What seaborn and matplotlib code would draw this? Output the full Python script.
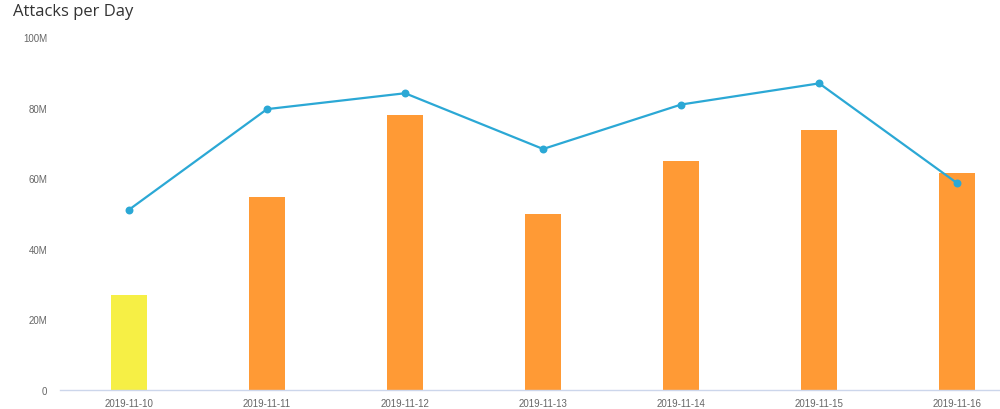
import matplotlib
matplotlib.use("Agg")
import matplotlib.pyplot as plt
import seaborn as sns
import pandas as pd

dates = ["2019-11-10", "2019-11-11", "2019-11-12", "2019-11-13",
         "2019-11-14", "2019-11-15", "2019-11-16"]
bar_values = [26.9, 54.7, 78.0, 50.0, 64.9, 73.7, 61.4]   # millions
line_values = [51.1, 79.6, 84.1, 68.3, 80.9, 86.9, 58.6]  # millions
bar_colors = ["#F6EF45", "#FF9A35", "#FF9A35", "#FF9A35", "#FF9A35", "#FF9A35", "#FF9A35"]
y_ticks = [0, 20, 40, 60, 80, 100]
y_tick_labels = ["0", "20M", "40M", "60M", "80M", "100M"]

sns.set_theme(style="white")
plt.rcParams['font.family'] = ['Liberation Sans', 'DejaVu Sans']

df = pd.DataFrame({"date": dates, "bars": bar_values, "line": line_values})

fig = plt.figure(figsize=(10, 4.1), dpi=100)
ax = fig.add_axes([0.06, 0.0463, 0.94, 0.8607])

sns.barplot(data=df, x="date", y="bars", hue="date", palette=bar_colors,
            width=0.26, legend=False, ax=ax, saturation=1, linewidth=0)
sns.pointplot(data=df, x="date", y="line", color="#2BA8D5", markers="o",
              markersize=4.5, linewidth=1.6, ax=ax)

ax.set_ylim(0, 100)
ax.set_xlim(-0.5, 6.31)
ax.set_yticks(y_ticks)
ax.set_yticklabels(y_tick_labels)
ax.set_xlabel("")
ax.set_ylabel("")
for s in ["top", "right", "left"]:
    ax.spines[s].set_visible(False)
ax.spines["bottom"].set_color("#CCD6EB")
ax.spines["bottom"].set_linewidth(1)
ax.tick_params(axis="both", length=0, labelsize=7, colors="#666666")
ax.tick_params(axis="y", pad=9)
ax.tick_params(axis="x", pad=6)

fig.text(0.013, 0.99, "Attacks per Day", fontsize=12, color="#333333",
         family=["Open Sans", "DejaVu Sans"], va="top", ha="left")

fig.savefig("out.png", dpi=100)
